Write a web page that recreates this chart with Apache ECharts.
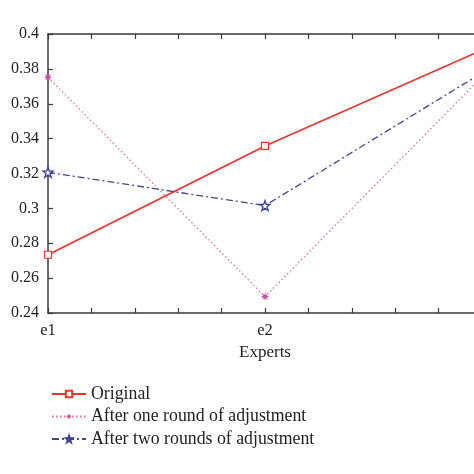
<!DOCTYPE html>
<html><head><meta charset="utf-8">
<script src="https://cdn.jsdelivr.net/npm/echarts@6/dist/echarts.min.js"></script>
<style>html,body{margin:0;padding:0;background:#fff}#c{width:474px;height:474px}</style>
</head><body><div id="c"></div>
<script>
var categories = ['e1', 'e2', 'e3'];
var original = [0.2734, 0.3358, 0.3908];
var oneRound = [0.3752, 0.2494, 0.3754];
var twoRounds = [0.3207, 0.3016, 0.3777];
var seriesNames = ['Original', 'After one round of adjustment', 'After two rounds of adjustment'];

function pts(arr){ return arr.map(function(v,i){ return [i+1, v]; }); }
var font = 'Liberation Serif';
var axisCol = '#3a3a3a';
var asterisk = 'path://M5,0L6,3.8L9.3,1.7L7.2,5L11,6L7.2,7L9.3,10.3L6,8.2L5,12L4,8.2L0.7,10.3L2.8,7L-1,6L2.8,5L0.7,1.7L4,3.8Z';
var star = 'path://M0,-10L2.35,-3.24L9.51,-3.09L3.8,1.24L5.88,8.09L0,4L-5.88,8.09L-3.8,1.24L-9.51,-3.09L-2.35,-3.24Z';
var chart = echarts.init(document.getElementById('c'), null, {renderer:'canvas'});
chart.setOption({
  animation:false,
  backgroundColor:'#fff',
  grid:{left:48, top:34, width:434, height:279, outerBoundsMode:'none', containLabel:false},
  legend:{
    orient:'vertical', left:46, top:380, itemWidth:34, itemHeight:8, itemGap:4.5,
    textStyle:{fontFamily:font, fontSize:17.8, color:'#222'},
    data:seriesNames
  },
  xAxis:[{
    type:'value', min:1, max:3, interval:0.2, position:'bottom',
    name:'Experts', nameLocation:'middle', nameGap:30,
    nameTextStyle:{fontFamily:font, fontSize:17, color:'#222'},
    axisLine:{lineStyle:{color:axisCol, width:1.5}},
    axisTick:{inside:true, length:5, lineStyle:{color:axisCol, width:1.2}},
    splitLine:{show:false},
    axisLabel:{margin:9, fontFamily:font, fontSize:16.5, color:'#222', showMinLabel:true, showMaxLabel:false,
      formatter:function(v){ var r=Math.round(v); return (Math.abs(v-r)<1e-6 && r<categories.length) ? categories[r-1] : ''; }}
  },{
    type:'value', min:1, max:3, interval:0.2, position:'top',
    axisLine:{show:true, lineStyle:{color:axisCol, width:1.5}},
    axisTick:{inside:true, length:5, lineStyle:{color:axisCol, width:1.2}},
    axisLabel:{show:false}, splitLine:{show:false}
  }],
  yAxis:[{
    type:'value', min:0.24, max:0.4, interval:0.02,
    axisLine:{show:true, lineStyle:{color:axisCol, width:1.5}},
    axisTick:{show:true, inside:true, length:5, lineStyle:{color:axisCol, width:1.2}},
    splitLine:{show:false},
    axisLabel:{margin:9, fontFamily:font, fontSize:16, color:'#222',
      formatter:function(v){ return String(parseFloat(v.toFixed(2))); }}
  },{
    type:'value', min:0.24, max:0.4, interval:0.02, position:'right',
    axisLine:{show:true, lineStyle:{color:axisCol, width:1.5}},
    axisTick:{show:true, inside:true, length:5}, axisLabel:{show:false}, splitLine:{show:false}
  }],
  series:[{
    name:seriesNames[0], type:'line', data:pts(original),
    symbol:'rect', symbolSize:7,
    lineStyle:{color:'#e8352b', width:1.6, type:'solid'},
    itemStyle:{color:'#fff', borderColor:'#e8352b', borderWidth:1.2}
  },{
    name:seriesNames[1], type:'line', data:pts(oneRound),
    symbol:asterisk, symbolSize:9,
    lineStyle:{color:'#e0707c', width:1.2, type:[1.5,2.5]},
    itemStyle:{color:'#c2509c', borderWidth:0}
  },{
    name:seriesNames[2], type:'line', data:pts(twoRounds),
    symbol:star, symbolSize:10,
    lineStyle:{color:'#44468c', width:1.3, type:[7,3,2,3]},
    itemStyle:{color:'#fff', borderColor:'#3c3f95', borderWidth:1.3}
  }]
});
</script></body></html>
